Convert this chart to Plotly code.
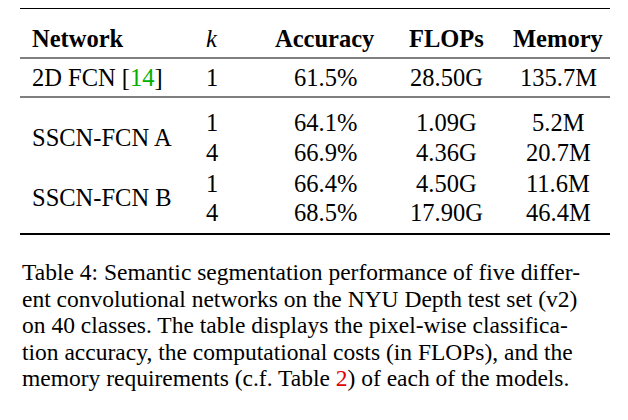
import plotly.graph_objects as go

headers = ["Network", "k", "Accuracy", "FLOPs", "Memory"]
networks = ["2D FCN", "SSCN-FCN A", "SSCN-FCN B"]
network_cite = ["14", "", ""]
k_values = [[1], [1, 4], [1, 4]]
accuracy = [["61.5%"], ["64.1%", "66.9%"], ["66.4%", "68.5%"]]
flops = [["28.50G"], ["1.09G", "4.36G"], ["4.50G", "17.90G"]]
memory = [["135.7M"], ["5.2M", "20.7M"], ["11.6M", "46.4M"]]
caption = [
    "Table 4: Semantic segmentation performance of five differ-",
    "ent convolutional networks on the NYU Depth test set (v2)",
    "on 40 classes. The table displays the pixel-wise classifica-",
    "tion accuracy, the computational costs (in FLOPs), and the",
    "memory requirements (c.f. Table <span style='color:#e00000'>2</span>) of each of the models.",
]

F = "Liberation Serif"
OX, OY = -8, -8
fig = go.Figure()
ann = []
def t(x, y, s, anchor="left", bold=False, italic=False, size=24.5):
    if bold: s = "<b>" + s + "</b>"
    if italic: s = "<i>" + s + "</i>"
    ann.append(dict(x=x + OX, y=y + OY, text=s, showarrow=False, xanchor=anchor, yanchor="middle",
                    xref="x", yref="y", font=dict(family=F, size=size, color="black")))

colx = [30, 204, 325, 446, 558]
t(colx[0], 38, headers[0], bold=True)
t(colx[1], 38, headers[1], italic=True)
for i in (2, 3, 4):
    t(colx[i], 38, headers[i], "center", bold=True)

row_ys = [[77], [122, 152], [183, 212]]
for g, name in enumerate(networks):
    ys = row_ys[g]
    label = name + (" [<span style='color:#00b000'>%s</span>]" % network_cite[g] if network_cite[g] else "")
    t(colx[0], sum(ys) / len(ys), label)
    for j, y in enumerate(ys):
        t(colx[1], y, str(k_values[g][j]))
        t(colx[2], y, accuracy[g][j], "center")
        t(colx[3], y, flops[g][j], "center")
        t(colx[4], y, memory[g][j], "center")

for i, line in enumerate(caption):
    t(20, 272 + i * 26.5, line, size=23.5)

shapes = []
for y, w in [(8, 2), (58, 1), (97, 1), (234, 2)]:
    shapes.append(dict(type="line", x0=20 + OX, x1=610 + OX, y0=y + OY, y1=y + OY, xref="x", yref="y",
                       line=dict(color="black", width=w)))

fig.update_layout(width=628, height=420, margin=dict(l=0, r=0, t=0, b=0),
                  plot_bgcolor="white", paper_bgcolor="white",
                  xaxis=dict(range=[0, 628], visible=False, fixedrange=True),
                  yaxis=dict(range=[420, 0], visible=False, fixedrange=True),
                  annotations=ann, shapes=shapes, showlegend=False)
fig.write_html("out.html")
